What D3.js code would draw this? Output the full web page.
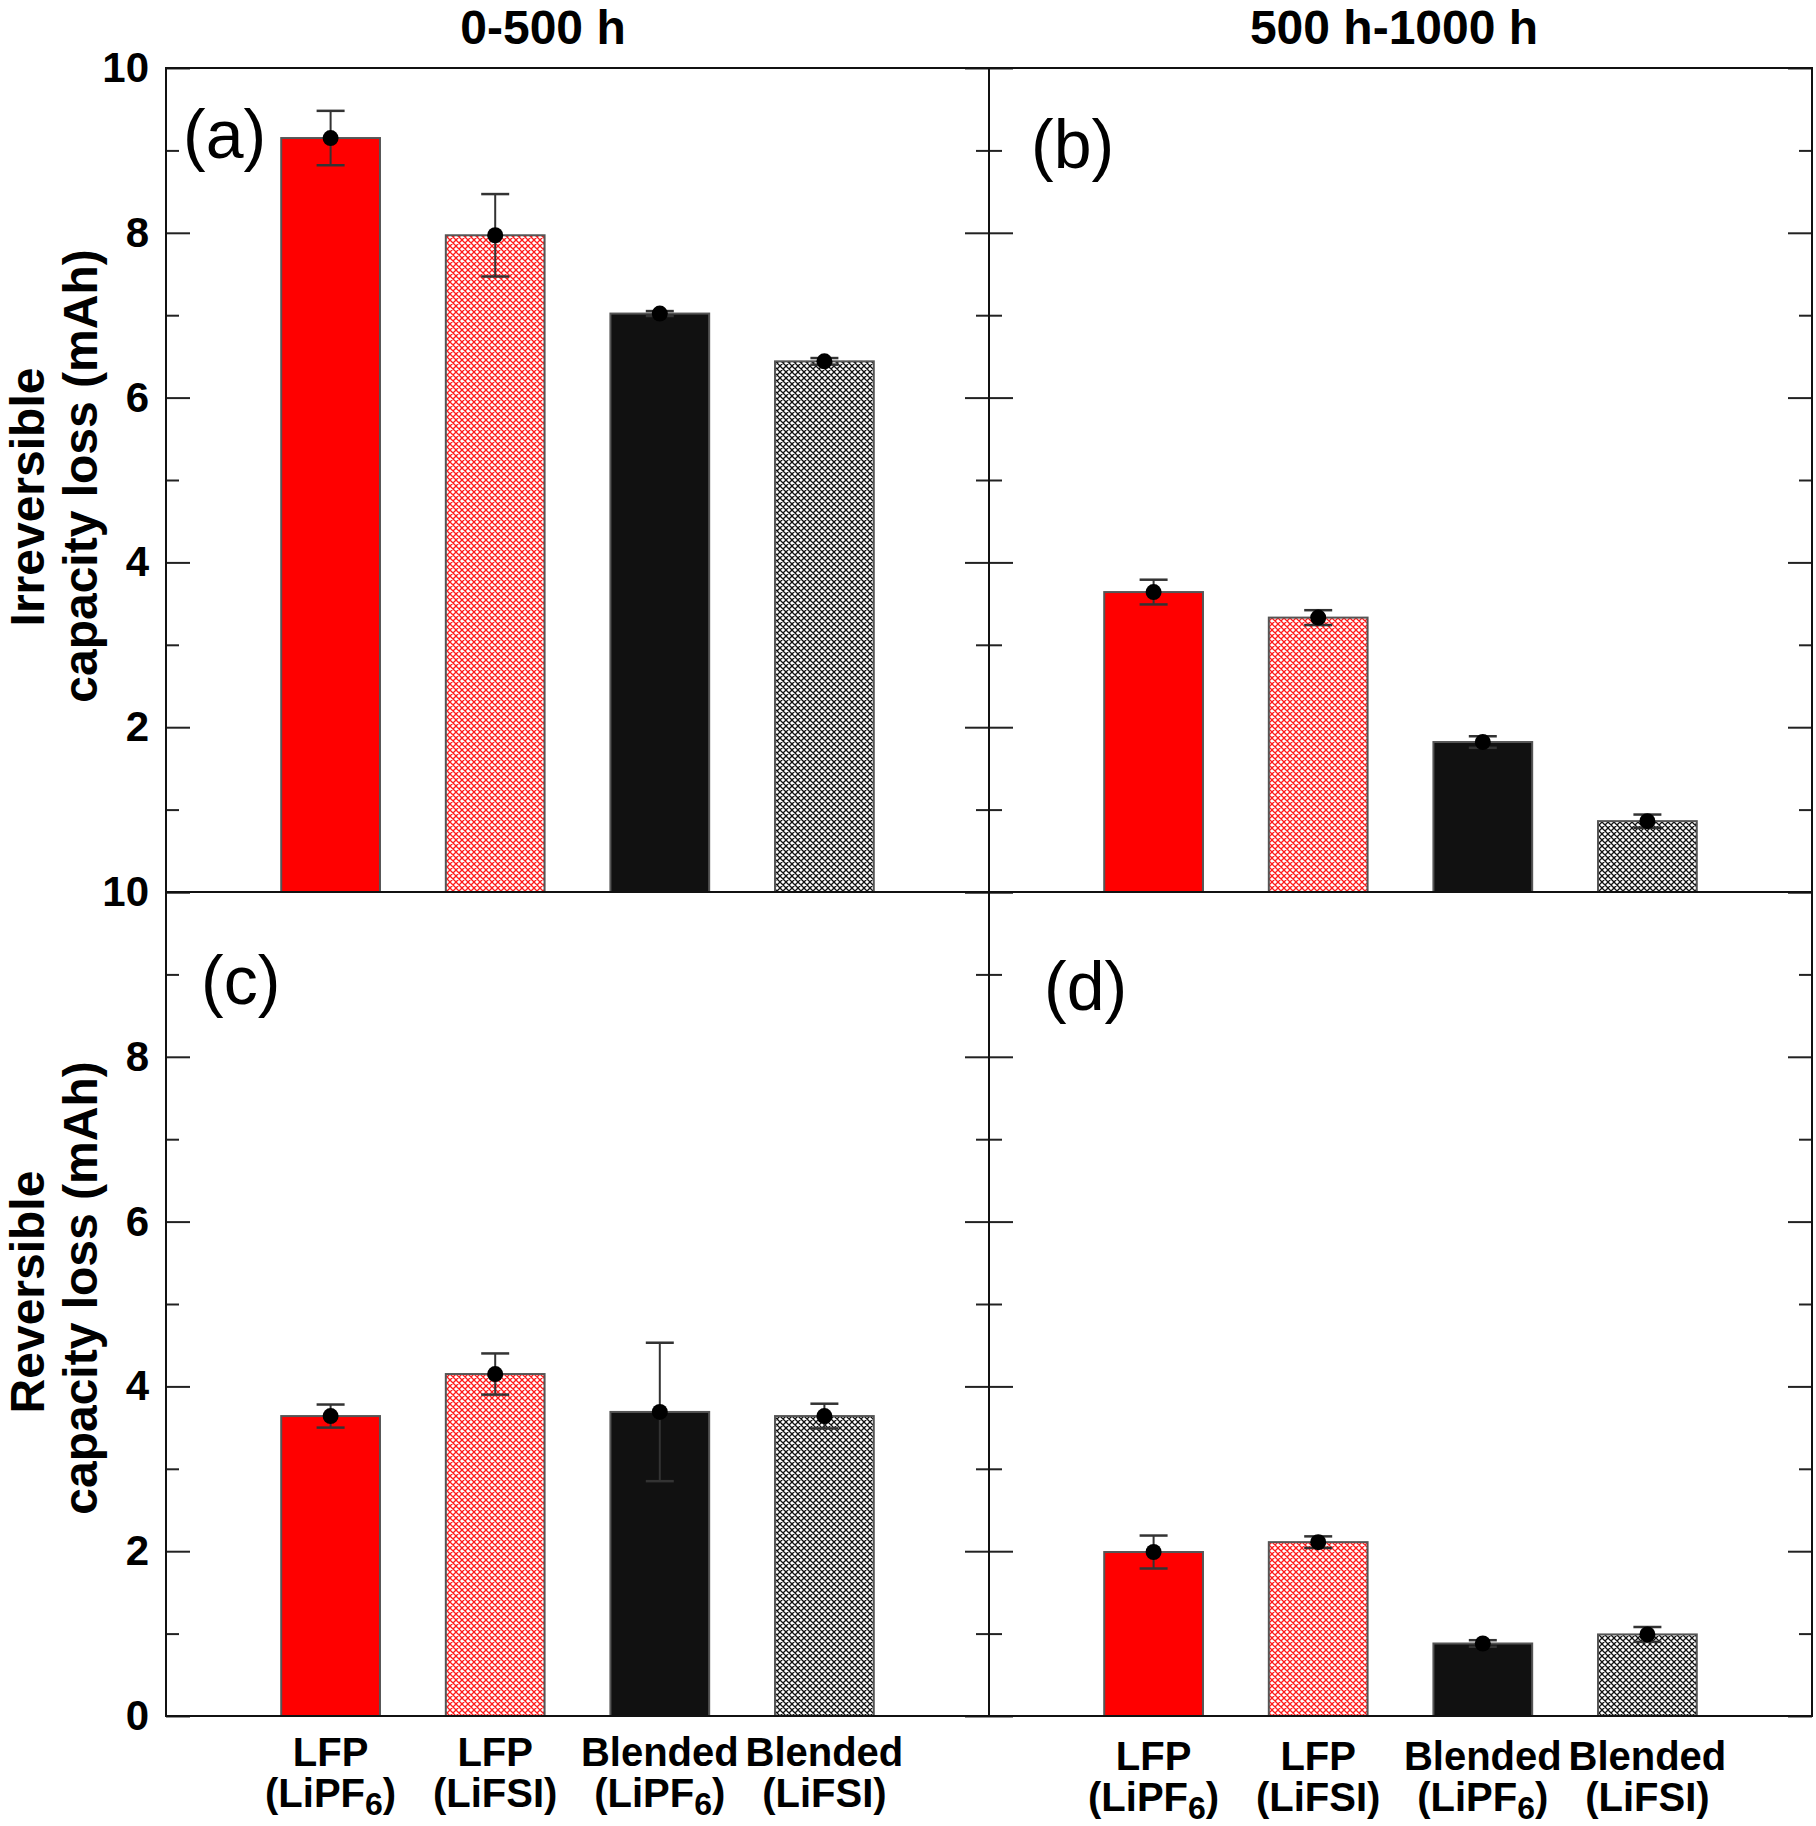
<!DOCTYPE html>
<html>
<head>
<meta charset="utf-8">
<script src="https://cdn.jsdelivr.net/npm/d3@7"></script>
<style>
  html, body { margin: 0; padding: 0; background: #fff; }
  svg { display: block; font-family: "Liberation Sans", Arial, sans-serif; }
</style>
</head>
<body>
<div id="chart"></div>
<script>
// ---- data ----
const catName = ['LFP', 'LFP', 'Blended', 'Blended'];
const catSalt = ['LiPF6', 'LiFSI', 'LiPF6', 'LiFSI'];
const columnTitles = ['0-500 h', '500 h-1000 h'];
const rowTitles = [['Irreversible', 'capacity loss (mAh)'], ['Reversible', 'capacity loss (mAh)']];
const panelLetters = ['(a)', '(b)', '(c)', '(d)'];

const irrev0to500 = [9.15, 7.97, 7.02, 6.44];
const irrev0to500Err = [0.33, 0.50, 0.03, 0.04];
const irrev500to1000 = [3.64, 3.33, 1.82, 0.86];
const irrev500to1000Err = [0.15, 0.09, 0.07, 0.08];
const rev0to500 = [3.64, 4.15, 3.69, 3.64];
const rev0to500Err = [0.14, 0.25, 0.84, 0.15];
const rev500to1000 = [1.99, 2.11, 0.88, 0.99];
const rev500to1000Err = [0.20, 0.07, 0.04, 0.09];

const majorTicks = [0, 2, 4, 6, 8, 10];
const minorTicks = [1, 3, 5, 7, 9];

// ---- layout ----
const W = 1816, H = 1826;
const x0 = 166, xm = 989, x1 = 1812;
const y0 = 68, ym = 892, y1 = 1716;

const svg = d3.select('#chart').append('svg')
    .attr('width', W).attr('height', H);

// patterns
const defs = svg.append('defs');
function hatch(id, color, bg) {
    const p = defs.append('pattern')
        .attr('id', id)
        .attr('patternUnits', 'userSpaceOnUse')
        .attr('width', 6).attr('height', 6);
    p.append('rect').attr('width', 6).attr('height', 6).attr('fill', bg);
    p.append('path')
        .attr('d', 'M0,0L6,6M6,0L0,6M-1,5L1,7M5,-1L7,1M-1,1L1,-1M5,7L7,5')
        .attr('stroke', color).attr('stroke-width', 1.3);
}
hatch('hatchRed', '#ff1a1a', '#fff');
hatch('hatchBlack', '#111', '#fff');
const fills = ['#ff0000', 'url(#hatchRed)', '#111', 'url(#hatchBlack)'];

const panels = [
    { col: 0, row: 0, values: irrev0to500, err: irrev0to500Err, letterDx: 17, letterDy: 90 },
    { col: 1, row: 0, values: irrev500to1000, err: irrev500to1000Err, letterDx: 42, letterDy: 100 },
    { col: 0, row: 1, values: rev0to500, err: rev0to500Err, letterDx: 35, letterDy: 112 },
    { col: 1, row: 1, values: rev500to1000, err: rev500to1000Err, letterDx: 55, letterDy: 118 }
];

const colX = [[x0, xm], [xm, x1]];
const rowY = [[ym, y0], [y1, ym]];

panels.forEach((p, i) => {
    const [xa, xb] = colX[p.col];
    const [ya, yb] = rowY[p.row];
    const x = d3.scalePoint().domain(d3.range(catName.length)).range([xa, xb]).padding(1);
    const y = d3.scaleLinear().domain([0, 10]).range([ya, yb]);
    const bw = x.step() * 0.6;
    const g = svg.append('g');

    // bars
    g.selectAll('rect.bar')
        .data(p.values)
        .enter().append('rect')
        .attr('class', 'bar')
        .attr('x', (d, j) => x(j) - bw / 2)
        .attr('y', d => y(d))
        .attr('width', bw)
        .attr('height', d => y(0) - y(d))
        .attr('fill', (d, j) => fills[j])
        .attr('stroke', '#555')
        .attr('stroke-width', 2);

    // error bars
    const eb = g.selectAll('g.err')
        .data(p.values.map((v, j) => ({ v: v, e: p.err[j], j: j })))
        .enter().append('g').attr('class', 'err');
    eb.append('line')
        .attr('x1', d => x(d.j)).attr('x2', d => x(d.j))
        .attr('y1', d => y(d.v + d.e)).attr('y2', d => y(d.v - d.e))
        .attr('stroke', '#333').attr('stroke-width', 2);
    [1, -1].forEach(s => {
        eb.append('line')
            .attr('x1', d => x(d.j) - 14).attr('x2', d => x(d.j) + 14)
            .attr('y1', d => y(d.v + s * d.e)).attr('y2', d => y(d.v + s * d.e))
            .attr('stroke', '#333').attr('stroke-width', 2.5);
    });
    eb.append('circle')
        .attr('cx', d => x(d.j)).attr('cy', d => y(d.v))
        .attr('r', 8).attr('fill', '#000');

    // ticks: left and right of every panel, pointing inward
    const showLabels = p.col === 0;
    const labelVals = p.row === 0 ? majorTicks.filter(v => v > 0) : majorTicks;
    const left = g.append('g').attr('transform', `translate(${xa},0)`)
        .call(d3.axisLeft(y).tickValues(majorTicks).tickSizeInner(-24).tickSizeOuter(0).tickPadding(17)
            .tickFormat(v => showLabels && labelVals.includes(v) ? v : ''));
    left.append('g').call(d3.axisLeft(y).tickValues(minorTicks).tickSizeInner(-13).tickSizeOuter(0).tickFormat(''));
    const right = g.append('g').attr('transform', `translate(${xb},0)`)
        .call(d3.axisRight(y).tickValues(majorTicks).tickSizeInner(-24).tickSizeOuter(0).tickFormat(''));
    right.append('g').call(d3.axisRight(y).tickValues(minorTicks).tickSizeInner(-13).tickSizeOuter(0).tickFormat(''));
    g.selectAll('.domain').remove();
    g.selectAll('.tick line').attr('stroke', '#222').attr('stroke-width', 2);
    g.selectAll('.tick text')
        .attr('font-size', 42).attr('font-weight', 'bold').attr('fill', '#000')
        .attr('font-family', '"Liberation Sans", Arial, sans-serif');

    // frame
    g.append('rect')
        .attr('x', xa).attr('y', yb)
        .attr('width', xb - xa).attr('height', ya - yb)
        .attr('fill', 'none').attr('stroke', '#111').attr('stroke-width', 2);

    // panel letter
    g.append('text')
        .attr('x', xa + p.letterDx).attr('y', yb + p.letterDy)
        .attr('font-size', 68)
        .text(panelLetters[i]);

    // category labels below bottom row
    if (p.row === 1) {
        const off = p.col === 0 ? 0 : 4;
        catName.forEach((n, j) => {
            g.append('text')
                .attr('x', x(j)).attr('y', y1 + 50 + off)
                .attr('text-anchor', 'middle')
                .attr('font-size', 40).attr('font-weight', 'bold')
                .text(n);
            const t = g.append('text')
                .attr('x', x(j)).attr('y', y1 + 91 + off)
                .attr('text-anchor', 'middle')
                .attr('font-size', 40).attr('font-weight', 'bold');
            const m = catSalt[j].match(/^(\D+)(\d*)$/);
            t.append('tspan').text('(' + m[1]);
            if (m[2]) {
                t.append('tspan').attr('dy', 8).attr('font-size', 32).text(m[2]);
                t.append('tspan').attr('dy', -8).text(')');
            } else {
                t.append('tspan').text(')');
            }
        });
    }
});

// column titles
const titleX = [543, 1394];
columnTitles.forEach((t, i) => {
    svg.append('text')
        .attr('x', titleX[i]).attr('y', 44)
        .attr('text-anchor', 'middle')
        .attr('font-size', 48).attr('font-weight', 'bold')
        .text(t);
});

// row titles (rotated)
const rowCenter = [[497, 476], [1292, 1288]];
rowTitles.forEach((lines, r) => {
    lines.forEach((line, k) => {
        const bx = k === 0 ? 44 : 97;
        svg.append('text')
            .attr('transform', `translate(${bx},${rowCenter[r][k]}) rotate(-90)`)
            .attr('text-anchor', 'middle')
            .attr('font-size', 48).attr('font-weight', 'bold')
            .text(line);
    });
});
</script>
</body>
</html>
